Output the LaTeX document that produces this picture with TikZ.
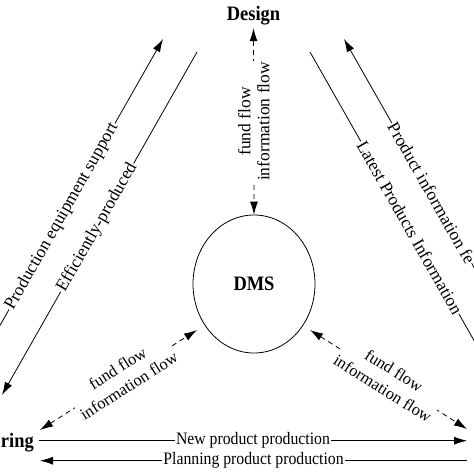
\documentclass[tikz,border=0pt]{standalone}
\usepackage{fontspec}
\setmainfont{Liberation Serif}
\newfontfamily\flatfont[FakeStretch=0.9]{Liberation Serif}
\usetikzlibrary{arrows.meta,shapes.geometric}
\begin{document}
\begin{tikzpicture}[x=1pt,y=-1pt,
	bigtip/.tip={Latex[length=13pt,width=8pt]},
	goods/.style={line width=0.8pt,-bigtip},
	flow/.style={line width=0.8pt,dash pattern=on 5pt off 4pt,bigtip-bigtip},
	tag/.style={fill=white,inner sep=1pt,align=center,font=\fontsize{17.5}{19}\selectfont},
	slantag/.style={tag,sloped,font=\fontsize{16.5}{21}\selectfont},
	flattag/.style={fill=white,inner sep=1pt,font=\flatfont\fontsize{17.5}{19}\selectfont},
	head/.style={font=\flatfont\fontsize{20.5}{24}\selectfont\bfseries}]
\path[use as bounding box,clip](0,0)rectangle(474,474);
% Nodo Design
\node[head,anchor=base,inner sep=3pt](node design)at(253.5,20.5){Design};
% Nodo DMS
\node[head,draw,ellipse,line width=0.8pt,minimum width=122pt,minimum height=138pt](node dms)at(254,284){DMS};
% Nodo Manufacturing (tagliato)
\node[head,anchor=base east,inner sep=0pt](node manu)at(34,447){ring};

% Estremi delle frecce
\coordinate(manu dms)at(40,430);
\coordinate(dms manu)at(197,330);
\coordinate(dms sales)at(310,330);
\coordinate(sales dms)at(467,429);
\coordinate(manu up)at(-20,360.5);
\coordinate(design left)at(163,39);
\coordinate(design left2)at(197,52);
\coordinate(manu down)at(2,395);
\coordinate(design right)at(310,52);
\coordinate(sales down)at(505,395);
\coordinate(sales up)at(527,360.5);
\coordinate(design right2)at(344,39);
\coordinate(manu new)at(39,440.7);
\coordinate(sales new)at(467,440.7);
\coordinate(manu plan)at(40,460.7);
\coordinate(sales plan)at(467,460.7);

% Flussi tratteggiati verso DMS
\draw[flow](node design.south)--(node dms.north)node[midway,tag,rotate=90]{fund flow\\information flow};
\draw[flow](manu dms)--(dms manu)node[pos=0.53,slantag]{fund flow\\information flow};
\draw[flow](dms sales)--(sales dms)node[midway,slantag]{fund flow\\information flow};

% Frecce a sinistra
\draw[goods](manu up)--(design left)node[pos=0.448,sloped,tag]{Production equipment support};
\draw[goods](design left2)--(manu down)node[pos=0.512,sloped,tag]{Efficiently-produced};
% Frecce a destra
\draw[goods](design right)--(sales down)node[pos=0.512,sloped,tag]{Latest Products Information};
\draw[goods](sales up)--(design right2)node[pos=0.74,sloped,tag,anchor=west]{Product information fe};

% Frecce in basso
\draw[goods](manu new)--(sales new)node[midway,flattag]{New product production};
\draw[goods](sales plan)--(manu plan)node[midway,flattag]{Planning product production};
\end{tikzpicture}
\end{document}
